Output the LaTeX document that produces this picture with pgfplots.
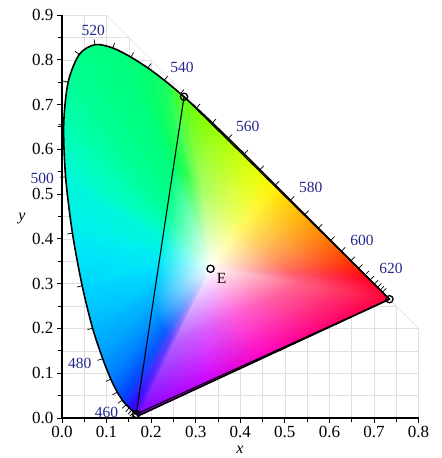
\documentclass[border=0pt]{standalone}
\usepackage{pgfplots}
\pgfplotsset{compat=1.18}
\usepackage{fontspec}
\setmainfont{Liberation Serif}
\definecolor{wl}{RGB}{35,40,140}
\definecolor{gridgray}{RGB}{224,224,224}
\begin{document}
\begin{tikzpicture}
\begin{axis}[
  scale only axis, width=356.8pt, height=403.2pt,
  xmin=0, xmax=0.8, ymin=0, ymax=0.9,
  clip=false,
  axis lines=left, axis line style={-, line width=1.1pt, black},
  xtick={0,0.1,0.2,0.3,0.4,0.5,0.6,0.7,0.8},
  ytick={0,0.1,0.2,0.3,0.4,0.5,0.6,0.7,0.8,0.9},
  minor xtick={0.05,0.15,0.25,0.35,0.45,0.55,0.65,0.75},
  minor ytick={0.05,0.15,0.25,0.35,0.45,0.55,0.65,0.75,0.85},
  grid=both,
  major grid style={draw=gridgray, line width=0.5pt},
  minor grid style={draw=gridgray, line width=0.5pt},
  tick align=outside, major tick length=5pt, minor tick length=4pt,
  every tick/.style={black, line width=0.9pt},
  ticklabel style={font=\fontsize{17}{19}\selectfont},
  xticklabel style={/pgf/number format/fixed, /pgf/number format/fixed zerofill, /pgf/number format/precision=1},
  yticklabel style={/pgf/number format/fixed, /pgf/number format/fixed zerofill, /pgf/number format/precision=1},
  /pgf/number format/assume math mode=true,
]
% page extent
\path (axis cs:-0.139,-0.0893) rectangle (axis cs:0.8516,0.9335);
% grid only where x+y<=1
\addplot[fill=white, draw=none] coordinates {(0.095,0.905) (0.805,0.195) (0.805,0.905)} -- cycle;
\addplot[gridgray, line width=0.5pt] coordinates {(0.1,0.9) (0.8,0.2)};
% colour fill: rows = white point E, inner ring, spectral locus + purple line
\addplot[surf, shader=interp, mesh/color input=explicit, point meta=explicit symbolic,
  mesh/rows=3, mesh/cols=50] table[meta=c] {
x y c
0.3333 0.3333 rgb=1,1,1
0.3333 0.3333 rgb=1,1,1
0.3333 0.3333 rgb=1,1,1
0.3333 0.3333 rgb=1,1,1
0.3333 0.3333 rgb=1,1,1
0.3333 0.3333 rgb=1,1,1
0.3333 0.3333 rgb=1,1,1
0.3333 0.3333 rgb=1,1,1
0.3333 0.3333 rgb=1,1,1
0.3333 0.3333 rgb=1,1,1
0.3333 0.3333 rgb=1,1,1
0.3333 0.3333 rgb=1,1,1
0.3333 0.3333 rgb=1,1,1
0.3333 0.3333 rgb=1,1,1
0.3333 0.3333 rgb=1,1,1
0.3333 0.3333 rgb=1,1,1
0.3333 0.3333 rgb=1,1,1
0.3333 0.3333 rgb=1,1,1
0.3333 0.3333 rgb=1,1,1
0.3333 0.3333 rgb=1,1,1
0.3333 0.3333 rgb=1,1,1
0.3333 0.3333 rgb=1,1,1
0.3333 0.3333 rgb=1,1,1
0.3333 0.3333 rgb=1,1,1
0.3333 0.3333 rgb=1,1,1
0.3333 0.3333 rgb=1,1,1
0.3333 0.3333 rgb=1,1,1
0.3333 0.3333 rgb=1,1,1
0.3333 0.3333 rgb=1,1,1
0.3333 0.3333 rgb=1,1,1
0.3333 0.3333 rgb=1,1,1
0.3333 0.3333 rgb=1,1,1
0.3333 0.3333 rgb=1,1,1
0.3333 0.3333 rgb=1,1,1
0.3333 0.3333 rgb=1,1,1
0.3333 0.3333 rgb=1,1,1
0.3333 0.3333 rgb=1,1,1
0.3333 0.3333 rgb=1,1,1
0.3333 0.3333 rgb=1,1,1
0.3333 0.3333 rgb=1,1,1
0.3333 0.3333 rgb=1,1,1
0.3333 0.3333 rgb=1,1,1
0.3333 0.3333 rgb=1,1,1
0.3333 0.3333 rgb=1,1,1
0.3333 0.3333 rgb=1,1,1
0.3333 0.3333 rgb=1,1,1
0.3333 0.3333 rgb=1,1,1
0.3333 0.3333 rgb=1,1,1
0.3333 0.3333 rgb=1,1,1
0.3333 0.3333 rgb=1,1,1
0.2524 0.1692 rgb=0.69,0.38,1
0.2518 0.1696 rgb=0.659,0.38,1
0.2511 0.1701 rgb=0.628,0.38,1
0.2501 0.1710 rgb=0.597,0.38,1
0.2489 0.1721 rgb=0.545,0.35,1
0.2472 0.1736 rgb=0.49,0.32,1
0.2450 0.1755 rgb=0.424,0.28,1
0.2422 0.1780 rgb=0.345,0.27,1
0.2387 0.1815 rgb=0.253,0.295,1
0.2344 0.1866 rgb=0.1,0.325,1
0.2287 0.1956 rgb=0.04,0.376,1
0.2215 0.2101 rgb=0,0.48,1
0.2123 0.2330 rgb=0,0.6,1
0.2060 0.2695 rgb=0,0.72,1
0.2133 0.3173 rgb=0,0.84,1
0.2201 0.3623 rgb=0,0.93,0.95
0.2259 0.4010 rgb=0,0.97,0.85
0.2308 0.4333 rgb=0,1,0.7
0.2351 0.4615 rgb=0,1,0.6
0.2389 0.4868 rgb=0,1,0.55
0.2423 0.5092 rgb=0,1,0.52
0.2456 0.5307 rgb=0,1,0.5
0.2493 0.5556 rgb=0,1,0.47
0.2631 0.5575 rgb=0.05,1,0.35
0.2815 0.5438 rgb=0.2,1,0.3
0.2996 0.5288 rgb=0.45,1,0.35
0.3175 0.5128 rgb=0.659,1,0.38
0.3353 0.4961 rgb=0.733,1,0.38
0.3532 0.4789 rgb=0.802,1,0.38
0.3710 0.4615 rgb=0.876,1,0.38
0.3887 0.4440 rgb=0.938,1,0.38
0.4061 0.4268 rgb=1,0.969,0.38
0.4229 0.4100 rgb=1,0.888,0.38
0.4391 0.3939 rgb=1,0.814,0.38
0.4543 0.3788 rgb=1,0.733,0.38
0.4681 0.3649 rgb=1,0.659,0.38
0.4802 0.3529 rgb=1,0.585,0.38
0.4908 0.3424 rgb=1,0.516,0.38
0.4996 0.3337 rgb=1,0.454,0.38
0.5067 0.3265 rgb=1,0.411,0.411
0.5124 0.3208 rgb=1,0.38,0.454
0.5170 0.3163 rgb=1,0.38,0.479
0.5206 0.3127 rgb=1,0.38,0.492
0.5237 0.3096 rgb=1,0.38,0.504
0.5262 0.3071 rgb=1,0.38,0.504
0.5340 0.2993 rgb=1,0.38,0.516
0.4636 0.2668 rgb=1,0.38,0.659
0.3932 0.2343 rgb=1,0.38,0.845
0.3228 0.2018 rgb=0.864,0.38,1
0.2524 0.1692 rgb=0.69,0.38,1
0.1714 0.0051 rgb=0.5,0,1
0.1703 0.0058 rgb=0.45,0,1
0.1689 0.0069 rgb=0.4,0,1
0.1669 0.0086 rgb=0.35,0,1
0.1644 0.0109 rgb=0.3,0,1
0.1611 0.0138 rgb=0.25,0,1
0.1566 0.0177 rgb=0.2,0,1
0.1510 0.0227 rgb=0.15,0.05,1
0.1440 0.0297 rgb=0.1,0.15,1
0.1355 0.0399 rgb=0,0.25,1
0.1241 0.0578 rgb=0,0.35,1
0.1096 0.0868 rgb=0,0.48,1
0.0913 0.1327 rgb=0,0.6,1
0.0687 0.2007 rgb=0,0.72,1
0.0454 0.2950 rgb=0,0.84,1
0.0235 0.4127 rgb=0,0.93,0.95
0.0082 0.5384 rgb=0,0.97,0.85
0.0039 0.6548 rgb=0,1,0.7
0.0139 0.7502 rgb=0,1,0.6
0.0389 0.8120 rgb=0,1,0.55
0.0743 0.8338 rgb=0,1,0.52
0.1142 0.8262 rgb=0,1,0.5
0.1547 0.8059 rgb=0,1,0.47
0.1929 0.7816 rgb=0,1,0.44
0.2296 0.7543 rgb=0.08,1,0.38
0.2658 0.7243 rgb=0.3,1,0.1
0.3016 0.6923 rgb=0.45,1,0
0.3373 0.6589 rgb=0.57,1,0
0.3731 0.6245 rgb=0.68,1,0
0.4087 0.5896 rgb=0.8,1,0
0.4441 0.5547 rgb=0.9,1,0
0.4788 0.5202 rgb=1,0.95,0
0.5125 0.4866 rgb=1,0.82,0
0.5448 0.4544 rgb=1,0.7,0
0.5752 0.4242 rgb=1,0.57,0
0.6029 0.3965 rgb=1,0.45,0
0.6270 0.3725 rgb=1,0.33,0
0.6482 0.3514 rgb=1,0.22,0
0.6658 0.3340 rgb=1,0.12,0
0.6801 0.3197 rgb=1,0.05,0.05
0.6915 0.3083 rgb=1,0,0.12
0.7006 0.2993 rgb=1,0,0.16
0.7079 0.2920 rgb=1,0,0.18
0.7140 0.2859 rgb=1,0,0.2
0.7190 0.2809 rgb=1,0,0.2
0.7347 0.2653 rgb=1,0,0.22
0.5939 0.2002 rgb=1,0,0.45
0.4531 0.1352 rgb=1,0,0.75
0.3122 0.0702 rgb=0.78,0,1
0.1714 0.0051 rgb=0.5,0,1
};
% spectral locus outline and purple line
\addplot[black, line width=1.6pt, smooth, line join=round] table {
x y
0.1714 0.0051
0.1703 0.0058
0.1689 0.0069
0.1669 0.0086
0.1644 0.0109
0.1611 0.0138
0.1566 0.0177
0.1510 0.0227
0.1440 0.0297
0.1355 0.0399
0.1241 0.0578
0.1096 0.0868
0.0913 0.1327
0.0687 0.2007
0.0454 0.2950
0.0235 0.4127
0.0082 0.5384
0.0039 0.6548
0.0139 0.7502
0.0389 0.8120
0.0743 0.8338
0.1142 0.8262
0.1547 0.8059
0.1929 0.7816
0.2296 0.7543
0.2658 0.7243
0.3016 0.6923
0.3373 0.6589
0.3731 0.6245
0.4087 0.5896
0.4441 0.5547
0.4788 0.5202
0.5125 0.4866
0.5448 0.4544
0.5752 0.4242
0.6029 0.3965
0.6270 0.3725
0.6482 0.3514
0.6658 0.3340
0.6801 0.3197
0.6915 0.3083
0.7006 0.2993
0.7079 0.2920
0.7140 0.2859
0.7190 0.2809
0.7230 0.2770
0.7260 0.2740
0.7283 0.2717
0.7300 0.2700
0.7320 0.2680
0.7334 0.2666
0.7347 0.2653
} -- cycle;
% wavelength ticks (5 nm)
\addplot[black, line width=0.7pt, quiver={u=\thisrow{u}, v=\thisrow{v}}] table {
x y u v
0.1644 0.0109 -0.0080 -0.0089
0.1611 0.0138 -0.0079 -0.0090
0.1566 0.0177 -0.0079 -0.0090
0.1510 0.0227 -0.0083 -0.0087
0.1440 0.0297 -0.0089 -0.0080
0.1355 0.0399 -0.0098 -0.0069
0.1241 0.0578 -0.0105 -0.0058
0.1096 0.0868 -0.0110 -0.0048
0.0913 0.1327 -0.0113 -0.0041
0.0687 0.2007 -0.0115 -0.0033
0.0454 0.2950 -0.0117 -0.0025
0.0235 0.4127 -0.0119 -0.0018
0.0082 0.5384 -0.0120 -0.0010
0.0039 0.6548 -0.0120 0.0003
0.0139 0.7502 -0.0117 0.0026
0.0389 0.8120 -0.0097 0.0070
0.0743 0.8338 -0.0022 0.0118
0.1142 0.8262 0.0039 0.0113
0.1547 0.8059 0.0059 0.0104
0.1929 0.7816 0.0068 0.0099
0.2296 0.7543 0.0074 0.0094
0.2658 0.7243 0.0078 0.0091
0.3016 0.6923 0.0081 0.0089
0.3373 0.6589 0.0083 0.0087
0.3731 0.6245 0.0084 0.0086
0.4087 0.5896 0.0084 0.0086
0.4441 0.5547 0.0084 0.0085
0.4788 0.5202 0.0085 0.0085
0.5125 0.4866 0.0085 0.0085
0.5448 0.4544 0.0085 0.0085
0.5752 0.4242 0.0085 0.0085
0.6029 0.3965 0.0085 0.0085
0.6270 0.3725 0.0085 0.0085
0.6482 0.3514 0.0085 0.0085
0.6658 0.3340 0.0085 0.0085
0.6801 0.3197 0.0085 0.0085
0.6915 0.3083 0.0085 0.0085
0.7006 0.2993 0.0085 0.0085
0.7079 0.2920 0.0085 0.0085
0.7140 0.2859 0.0085 0.0085
0.7190 0.2809 0.0085 0.0085
};
% CIE RGB gamut triangle
\addplot[black, line width=1.1pt] coordinates {(0.1666,0.0089) (0.2738,0.7174) (0.7347,0.2653)} -- cycle;
% primaries and white point E
\addplot[only marks, mark=o, mark size=3.6pt, mark options={black, line width=1.3pt}]
  coordinates {(0.1666,0.0089) (0.2738,0.7174) (0.7347,0.2653) (0.3333,0.3333)};
% labels
\begin{scope}[every node/.style={text=wl, font=\fontsize{15.5}{17}\selectfont, inner sep=0pt}]
\node at (axis cs:0.100,0.012) {460};
\node at (axis cs:0.040,0.123) {480};
\node at (axis cs:-0.044,0.536) {500};
\node at (axis cs:0.070,0.866) {520};
\node at (axis cs:0.269,0.783) {540};
\node at (axis cs:0.417,0.652) {560};
\node at (axis cs:0.558,0.515) {580};
\node at (axis cs:0.673,0.397) {600};
\node at (axis cs:0.738,0.335) {620};
\end{scope}
\node[font=\fontsize{15.5}{17}\selectfont, inner sep=0pt] at (axis cs:0.358,0.3125) {E};
\node[font=\fontsize{16}{18}\selectfont\itshape, inner sep=0pt] at (axis cs:-0.090,0.446) {y};
\node[font=\fontsize{16}{18}\selectfont\itshape, inner sep=0pt] at (axis cs:0.399,-0.0714) {x};
\end{axis}
\end{tikzpicture}
\end{document}
